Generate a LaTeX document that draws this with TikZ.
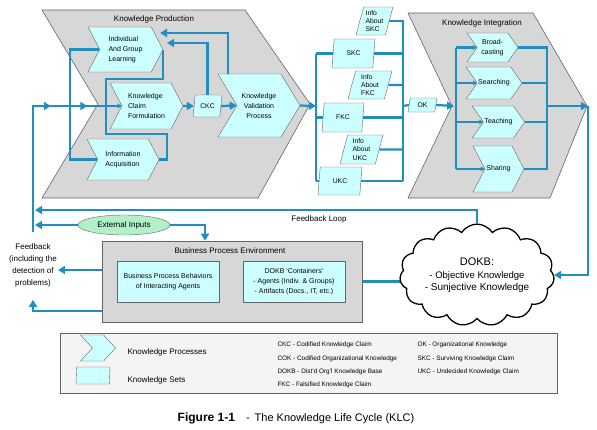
\documentclass[tikz,border=0pt]{standalone}
\usepackage{fontspec}
\setmainfont{Liberation Sans}
\usetikzlibrary{shapes.symbols,shapes.geometric}
\usetikzlibrary{arrows.meta,decorations.markings}
\usetikzlibrary{calc}

\definecolor{flowblue}{RGB}{31,143,191}
\definecolor{proccyan}{RGB}{204,255,255}
\definecolor{zonegray}{RGB}{215,215,215}
\definecolor{edgegray}{RGB}{100,100,100}
\definecolor{extgreen}{RGB}{178,240,200}
\definecolor{keygray}{RGB}{244,244,244}

\pgfdeclarelayer{back}
\pgfdeclarelayer{wires}
\pgfsetlayers{back,wires,main}

\tikzset{
	flow/.style={line width=2.2pt, color=flowblue},
	flowtip/.style={-{Triangle[length=7pt,width=8pt]}},
	smalltip/.style={-{Triangle[length=4pt,width=4.5pt]}},
	zone/.style={fill=zonegray, draw=edgegray, line width=0.6pt},
	proc/.style={signal, signal to=east, signal from=west, signal pointer angle=125,
		draw=edgegray, fill=proccyan, inner sep=1pt, font=\fontsize{7}{10}\selectfont},
	kset/.style={trapezium, trapezium left angle=72, trapezium right angle=108,
		trapezium stretches body, draw=edgegray, fill=proccyan, inner sep=1pt,
		font=\fontsize{6.8}{8.3}\selectfont},
	title/.style={font=\fontsize{8}{10}\selectfont},
	inbox/.style={rectangle, draw=edgegray, fill=proccyan, minimum width=102pt,
		minimum height=41pt, align=center, font=\fontsize{7}{10}\selectfont},
	keytext/.style={anchor=west, font=\fontsize{8}{10}\selectfont},
	abbr/.style={anchor=west, font=\fontsize{6.4}{8}\selectfont}
}

\begin{document}
\begin{tikzpicture}[x=1pt,y=-1pt]
	\useasboundingbox (0,0) rectangle (597,429);

	% the two big zones
	\begin{pgfonlayer}{back}
		\draw[zone] (42,10) -- (245,10) -- (310,104) -- (258,198) -- (42,198) -- (98,104) -- cycle;
		\draw[zone] (408,13) -- (533,13) -- (587,106) -- (550,198) -- (408,198) -- (452,106) -- cycle;
	\end{pgfonlayer}
	\node[title] (kptitle) at (154,19) {Knowledge Production};
	\node[title] (kititle) at (482,23) {Knowledge Integration};

	% knowledge production
	\node[proc, minimum width=75pt, minimum height=45pt, align=left] (iagl) at (125.5,49.5) {Individual\\And Group\\Learning};
	\node[proc, minimum width=73pt, minimum height=46pt, align=left] (kcf) at (146.5,106) {Knowledge\\Claim\\Formulation};
	\node[proc, minimum width=72pt, minimum height=41pt, align=left] (ia) at (123,159.5) {Information\\Acquisition};
	\node[kset, minimum width=29pt, minimum height=22pt] (ckc) at (207.5,106) {CKC};
	\node[proc, signal pointer angle=118, minimum width=82pt, minimum height=63pt, align=center] (kvp) at (259,105.5) {Knowledge\\Validation\\Process};

	% knowledge sets
	\node[kset, minimum width=37pt, minimum height=28pt, align=left] (iskc) at (374.5,21) {Info\\About\\SKC};
	\node[kset, minimum width=43pt, minimum height=29pt] (skc) at (353.5,53.5) {SKC};
	\node[kset, minimum width=44pt, minimum height=28pt, align=left] (ifkc) at (370,85) {Info\\About\\FKC};
	\node[kset, minimum width=42pt, minimum height=29pt] (fkc) at (343,117.5) {FKC};
	\node[kset, minimum width=43pt, minimum height=29pt, align=left] (iukc) at (361.5,149.5) {Info\\About\\UKC};
	\node[kset, minimum width=44pt, minimum height=28pt] (ukc) at (340,181) {UKC};
	\node[kset, minimum width=29pt, minimum height=14pt] (ok) at (422.5,105) {OK};

	% knowledge integration
	\node[proc, signal pointer angle=110, minimum width=51pt, minimum height=29pt, align=center] (broad) at (492.5,47.5) {Broad-\\casting};
	\node[proc, signal pointer angle=110, minimum width=52pt, minimum height=32pt] (search) at (494,83) {Searching};
	\node[proc, signal pointer angle=110, minimum width=51pt, minimum height=32pt] (teach) at (498.5,122) {Teaching};
	\node[proc, minimum width=51pt, minimum height=46pt] (share) at (498.5,169) {Sharing};

	% lower part
	\node[cloud, cloud puffs=15, cloud puff arc=115, aspect=1.7, draw=black, line width=1.3pt, fill=white,
		minimum width=137pt, minimum height=80pt, align=center, inner sep=0pt] (dokb) at (477,275)
		{\fontsize{11}{16}\selectfont DOKB:\\[1pt]\fontsize{9.5}{12}\selectfont - Objective Knowledge\\- Sunjective Knowledge};
	\node[title] (looplabel) at (319,219) {Feedback Loop};
	\node[ellipse, draw=edgegray, fill=extgreen, minimum width=92pt, minimum height=20pt, inner sep=0pt, title] (ext) at (124,225) {External Inputs};
	\node[rectangle, draw=edgegray, line width=0.6pt, fill=zonegray, minimum width=260pt, minimum height=81pt] (bpe) at (232,281.5) {};
	\node[title] (bpetitle) at (230,251) {Business Process Environment};
	\node[inbox] (bpb) at (168,281.5) {Business Process Behaviors\\of Interacting Agents};
	\node[inbox] (dkc) at (294,281.5) {DOKB `Containers'\\- Agents (Indiv. \& Groups)\\- Artifacts (Docs., IT, etc.)};
	\node[align=center, font=\fontsize{8}{12}\selectfont, inner sep=1pt] (fb) at (33,265) {Feedback\\(including the\\detection of\\problems)};

	\coordinate (kpsplit) at (70,106);
	\coordinate (ret1) at (167,43);
	\coordinate (ret2) at (160,33);
	\coordinate (setsL) at (316,106);
	\coordinate (setsR) at (403,106);
	\coordinate (kinotch) at (454,106);
	\coordinate (kiL) at (456,106);
	\coordinate (kiR) at (547,106);
	\coordinate (kitip) at (588,106);
	\coordinate (loopend) at (35,210);

	\begin{pgfonlayer}{wires}
		\draw[flow, smalltip,
		postaction={decorate},
		decoration={markings, mark=at position 0.67 with {\arrow{Triangle[length=7pt,width=8pt]}},
			mark=at position 0.84 with {\arrow{Triangle[length=7pt,width=8pt]}}}
		] ([yshift=10pt]fb.north) |- (kcf.west);
		\draw[flow] (iagl.west) -| (kpsplit) |- (ia.west);
		\draw[flow] (iagl.east) |- (106,79) |- (167,134) |- (ia.east);
		\draw[flow, flowtip] (kcf.east) -- (ckc.west);
		\draw[flow, flowtip] (ckc.east) -- (kvp.west);
		\draw[flow, flowtip] (ckc.north) |- (ret1);
		\draw[flow, flowtip] ([xshift=-31pt]kvp.north) |- (ret2);

		\draw[flow, flowtip] (kvp.east) -- (setsL);
		\draw[flow] (skc -| setsL) -- (ukc -| setsL);
		\draw[flow] (skc -| setsL) -- (skc -| setsR);
		\draw[flow] (fkc -| setsL) -- (fkc -| setsR);
		\draw[flow] (ukc -| setsL) -- (ukc -| setsR);
		\draw[flow] (iskc.east) -| (ukc -| setsR);
		\draw[flow] (ifkc.east) -- (ifkc -| setsR);
		\draw[flow] (iukc.east) -- (iukc -| setsR);
		\draw[flow] (setsR) -- (ok.west);
		\draw[flow, flowtip] (ok.east) -- (kinotch);

		\draw[flow] (broad.west -| kiL) -- (share.west -| kiL);
		\draw[flow, smalltip] (broad.west -| kiL) -- (broad.west);
		\draw[flow, smalltip] (search.west -| kiL) -- (search.west);
		\draw[flow, smalltip] (teach.west -| kiL) -- (teach.west);
		\draw[flow, smalltip] (share.west -| kiL) -- (share.west);
		\draw[flow] (broad.east) -| (share.east -| kiR) -- (share.east);
		\draw[flow] (search.east) -- (search -| kiR);
		\draw[flow] (teach.east) -- (teach -| kiR);
		\draw[flow, flowtip] (kiR) -- (kitip);
		\draw[flow, flowtip] (kitip) |- (dokb.east);

		\draw[flow, flowtip] (dokb.north) |- (loopend);
		\draw[flow, flowtip] (ext.west) -- (ext.west -| loopend);
		\draw[flow, flowtip] (ext.east) -| ([xshift=-27pt]bpe.north);
		\draw[flow] (dokb.west |- dkc.east) -- (dkc.east);
		\draw[flow, flowtip] (dkc.west) -- (bpb.east);
		\draw[flow, flowtip] ([yshift=11.5pt]bpb.west) -- ([yshift=11.5pt]bpb.west -| fb.east);
		\draw[flow, flowtip] ([xshift=-18pt]dkc.south) |- ([yshift=-23pt]fb.south) -- ([yshift=-12pt]fb.south);
	\end{pgfonlayer}

	% legend
	\node[rectangle, draw=edgegray, line width=0.6pt, fill=keygray, minimum width=497pt, minimum height=60pt] (legend) at (308.5,363) {};
	\node[proc, signal pointer angle=95, minimum width=35pt, minimum height=26pt] (keyproc) at (98,348) {};
	\node[kset, minimum width=34pt, minimum height=17pt] (keyset) at (93,375.5) {};
	\node[keytext] (keyproctext) at (124,352) {Knowledge Processes};
	\node[keytext] (keysettext) at (124,380) {Knowledge Sets};
	\node[abbr] (abckc) at (274,345) {CKC - Codified Knowledge Claim};
	\node[abbr] (abcok) at (274,359) {COK - Codified Organizational Knowledge};
	\node[abbr] (abdokb) at (274,372) {DOKB - Dist'd Org'l Knowledge Base};
	\node[abbr] (abfkc) at (274,385) {FKC - Falsified Knowledge Claim};
	\node[abbr] (abok) at (414,345) {OK - Organizational Knowledge};
	\node[abbr] (abskc) at (414,359) {SKC - Surviving Knowledge Claim};
	\node[abbr] (abukc) at (414,372) {UKC - Undecided Knowledge Claim};

	\node (caption) at (296,418) {\fontsize{12}{14}\selectfont\bfseries Figure 1-1\hspace{11pt}\mdseries\fontsize{11}{13}\selectfont -\hspace{5pt}The Knowledge Life Cycle (KLC)};
\end{tikzpicture}
\end{document}
